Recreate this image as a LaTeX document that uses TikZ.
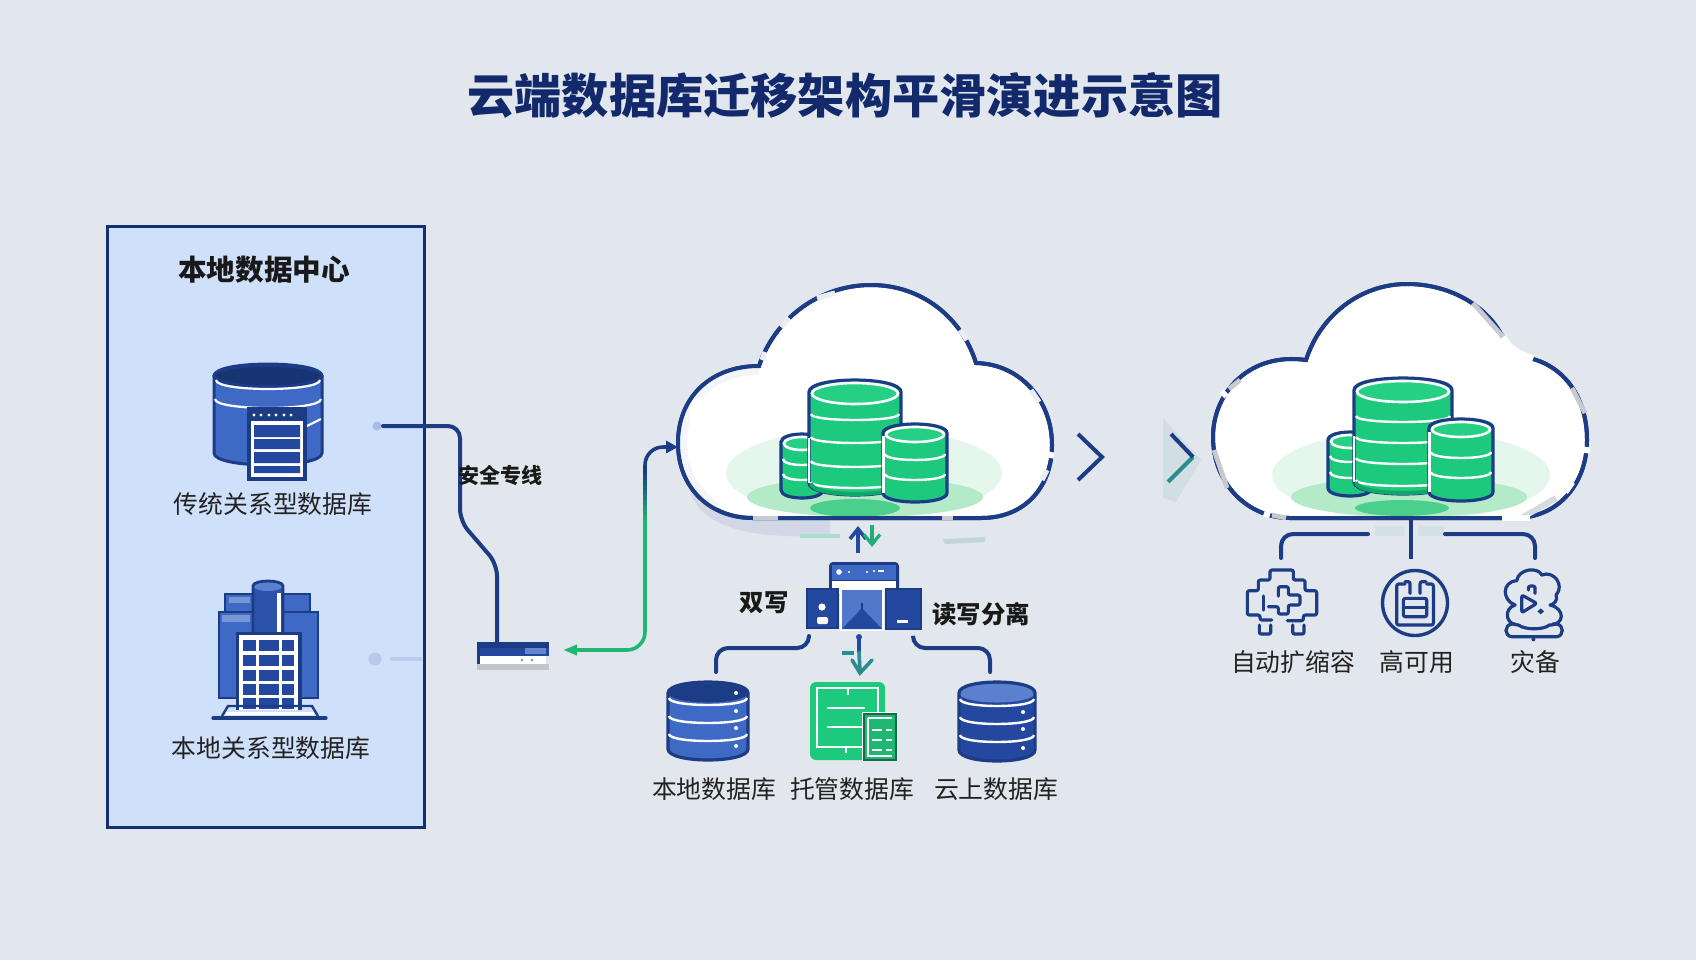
\documentclass[tikz,border=0pt]{standalone}
\usepackage{fontspec}
\setmainfont{Noto Sans CJK SC}
\usetikzlibrary{arrows.meta,calc}
\definecolor{bgc}{HTML}{E2E6ED}
\definecolor{navy}{HTML}{1C3C86}
\definecolor{deep}{HTML}{12296B}
\definecolor{mid}{HTML}{3E69C4}
\definecolor{dkb}{HTML}{24489F}
\definecolor{grn}{HTML}{1DC97C}
\definecolor{grnl}{HTML}{25D085}
\definecolor{grnd}{HTML}{10A868}
\definecolor{glow}{HTML}{1FB873}
\definecolor{halo}{HTML}{E5F6EC}
\definecolor{halob}{HTML}{B4EAC8}
\definecolor{halod}{HTML}{4ACF8C}
\definecolor{teal}{HTML}{2A8C8E}
\definecolor{panel}{HTML}{CFE0FB}
\definecolor{txt}{HTML}{222222}
\tikzset{
  conn/.style={draw=navy,line width=2pt,rounded corners=6pt,line cap=round},
  lab/.style={font=\fontsize{12.4}{14}\selectfont,text=txt,inner sep=0pt},
  blab/.style={font=\fontsize{12}{14}\selectfont\bfseries,text=black!90,inner sep=0pt},
  icon/.style={draw=navy,line width=1.6pt,line join=round,line cap=round,rounded corners=1pt},
  cloudst/.style={draw=navy,line width=2pt,fill=white},
  gapa/.style={draw=bgc!70!white,line width=2.6pt},
  gapb/.style={draw=white,line width=3.4pt},
  gapc/.style={draw=black!12!bgc,line width=2.4pt},
}
% cylinder body path: cx rx ytop ybot ry
\newcommand{\cylpath}[5]{({#1-#2},#3) -- ({#1-#2},#4) .. controls ({#1-#2},{#4+1.33*#5}) and ({#1+#2},{#4+1.33*#5}) .. ({#1+#2},#4) -- ({#1+#2},#3) .. controls ({#1+#2},{#3-1.33*#5}) and ({#1-#2},{#3-1.33*#5}) .. cycle}
\newcommand{\bandpath}[4]{({#1-#2},{#3-#4}) .. controls ({#1-#2},{#3+0.33*#4}) and ({#1+#2},{#3+0.33*#4}) .. ({#1+#2},{#3-#4})}
% green stack: cx rx ytop ybot ry bandlist
\newcommand{\greendb}[6]{%
  \fill[grn] \cylpath{#1}{#2}{#3}{#4}{#5};
  \draw[navy,line width=1.6pt] \cylpath{#1}{#2}{#3}{#4}{#5};
  \fill[grnl] (#1,{#3+1.5}) ellipse [x radius={#2-4},y radius={#5-2}];
  \draw[white,line width=1.3pt] (#1,{#3+1.5}) ellipse [x radius={#2-3},y radius={#5-1.5}];
  \foreach \b in {#6}{\draw[white,line width=1.2pt] \bandpath{#1}{(#2-2)}{\b}{6};}
}
% cloud path
\newcommand{\cloudA}{(753,518) -- (981,518) .. controls (1026,518) and (1052,486) .. (1052,445) .. controls (1052,400) and (1020,364) .. (976,363) .. controls (962,318) and (922,285) .. (871,285) .. controls (820,285) and (775,318) .. (759,366) .. controls (710,366) and (678,398) .. (678,443) .. controls (678,488) and (710,518) .. (753,518) -- cycle}
\newcommand{\cloudB}{(1290,518) -- (1515,518) .. controls (1558,518) and (1587,484) .. (1587,440) .. controls (1587,398) and (1565,368) .. (1533,359) .. controls (1522,354) and (1510,350) .. (1504,340) .. controls (1490,308) and (1452,284) .. (1407,284) .. controls (1360,284) and (1320,316) .. (1306,360) .. controls (1250,352) and (1213,392) .. (1213,437) .. controls (1213,484) and (1248,518) .. (1290,518) -- cycle}
\begin{document}
\begin{tikzpicture}[x=0.5pt,y=-0.5pt]
\useasboundingbox (0,0) rectangle (1696,960);
\fill[bgc] (0,0) rectangle (1696,960);

%% title
\node[inner sep=0pt,text=deep,font=\fontsize{23.6}{26}\selectfont\bfseries] (title) at (845,95) {云端数据库迁移架构平滑演进示意图};

%% left panel
\node[draw=deep!70!navy,line width=1.8pt,fill=panel,minimum width=158.5pt,minimum height=300.5pt,inner sep=0pt,anchor=north west] (panelbox) at (105.5,224.5) {};
\node[blab,font=\fontsize{14.3}{16}\selectfont\bfseries] (paneltitle) at (264,270) {本地数据中心};

% faint ports
\fill[navy!22!panel] (377,426) circle [radius=4.5];
\fill[navy!14!panel] (375,659) circle [radius=6.5];
\draw[navy!12!panel,line width=1.8pt] (390,659) -- (422,659);

% DB1
\fill[mid] \cylpath{268}{54}{376}{453}{12};
\draw[navy,line width=1.5pt] \cylpath{268}{54}{376}{453}{12};
\fill[navy!85!black] (268,377) ellipse [x radius=54,y radius=10.5];
\draw[navy,line width=1.5pt] (268,376) ellipse [x radius=54,y radius=10.5];
\draw[white,line width=1.1pt] \bandpath{268}{52}{389}{9};
\draw[white,line width=1.1pt] \bandpath{268}{53}{408}{9};
\draw[white,line width=1.1pt] (307,426) -- (321,419);
\fill[navy] (247,407) rectangle (307,481);
\fill[white] (251,421) rectangle (303,477);
\fill[dkb] (254,425) rectangle (300,437) (254,439) rectangle (300,449) (254,452) rectangle (300,463) (254,466) rectangle (300,473);
\foreach \q in {254,261,269,276,284,291}{\fill[white] (\q,415) circle [radius=1.7];}
\node[lab] (dba) at (273,504) {传统关系型数据库};

% building
\fill[mid] (225,594) rectangle (310,640);
\draw[navy,line width=1.4pt] (225,594) rectangle (310,640);
\fill[mid] (219,612) rectangle (318,698);
\draw[navy,line width=1.4pt] (219,612) rectangle (318,698);
\fill[mid!70!white] (222,615) rectangle (250,622);
\fill[mid!70!white] (229,597) rectangle (250,603);
\fill[dkb!70!mid] \cylpath{268}{15}{586}{640}{5};
\fill[mid!85!white] (268,586) ellipse [x radius=15,y radius=5];
\draw[navy,line width=1.4pt] \cylpath{268}{15}{586}{640}{5};
\fill[white] (277,593) rectangle (281,632);
\fill[navy] (236,632) rectangle (302,710);
\fill[white] (239,635) rectangle (298,710);
\foreach \cx/\cw in {243/13,259/20,282/12}{\foreach \cy in {640,655,670,684,698}{\fill[dkb] (\cx,\cy) rectangle ({\cx+\cw},{\cy+11});}}
\draw[navy,line width=1.2pt] (222,716) -- (228,706) -- (312,706) -- (318,716);
\fill[white] (226,712) rectangle (314,715);
\draw[navy,line width=1.6pt,line cap=round] (213,718) -- (326,718);
\node[lab] (dbb) at (271,748) {本地关系型数据库};

%% secure line and device
\coordinate (portA) at (383,426);
\coordinate (lineA) at (460,426);
\coordinate (lineB) at (460,521);
\coordinate (lineC) at (497,564);
\fill[navy] (477,642) rectangle (549,650);
\fill[dkb] (477,648) rectangle (549,656);
\fill[mid!80!white] (525,648) rectangle (546,654);
\fill[black!14!bgc] (477,664) rectangle (549,670);
\fill[white] (480,656) rectangle (546,664);
\fill[navy] (477,648) rectangle (480,664);
\fill[black!40] (522,660) circle [radius=1.5] (532,660) circle [radius=1.5];
\node[inner sep=0pt,minimum width=36pt,minimum height=14pt] (router) at (513,656) {};
\draw[conn] (portA) -- (lineA) -- (lineB) -- (lineC) -- (router.north -| lineC);
\node[blab,font=\fontsize{10.5}{12}\selectfont\bfseries] (seclab) at (500,476) {安全专线};

%% clouds
\fill[navy!12!bgc,opacity=.7] (690,490) .. controls (700,530) and (760,540) .. (830,535) -- (830,510) -- (700,480) -- cycle;
\draw[cloudst] \cloudA;
\begin{scope}
  \clip \cloudA;
  \draw[bgc!40!white,line width=9pt] (759,366) .. controls (710,366) and (678,398) .. (678,443) .. controls (678,470) and (690,495) .. (715,510);
  \fill[white] (690,400) -- (760,385) -- (800,520) -- (730,510) .. controls (700,495) and (690,470) .. (690,445) -- cycle;
  \fill[halo] (864,473) ellipse [x radius=138,y radius=45];
  \fill[halob] (865,497) ellipse [x radius=118,y radius=20];
  \fill[halod] (855,508) ellipse [x radius=45,y radius=9];
\end{scope}
\draw[navy,line width=2pt] \cloudA;
\draw[gapa] (817,298) -- (835,293);
\draw[gapa] (781,327) -- (789,318);
\draw[gapa] (762,360) -- (765,352);
\draw[gapa] (960,330) -- (967,340);
\draw[gapa] (1031,390) -- (1039,402);
\draw[gapb] (1051,452) -- (1050,458);
\draw[gapa] (1047,470) -- (1042,480);
\draw[gapc] (753,518) -- (778,518);
\draw[gapc] (942,518) -- (953,518);
\greendb{802}{21}{442}{490}{8}{465,480}
\greendb{855}{46}{392}{483}{12}{420,443,467,488}
\draw[grnd,line width=2pt] \bandpath{855}{44}{494}{11};
\draw[white,line width=1.4pt] (809,438) -- (809,483);
\greendb{915}{32}{433}{493}{9}{460,480}
\draw[white,line width=1.5pt] (883,436) -- (883,493);
\node[inner sep=0pt,minimum size=2pt] (cloudAnode) at (865,400) {};

\draw[cloudst] \cloudB;
\begin{scope}
  \clip \cloudB;
  \fill[halo] (1411,475) ellipse [x radius=139,y radius=45];
  \fill[halob] (1409,497) ellipse [x radius=118,y radius=20];
  \fill[halod] (1402,508) ellipse [x radius=47,y radius=8];
\end{scope}
\draw[navy,line width=2pt] \cloudB;
\draw[gapc] (1473,303) -- (1504,338);
\draw[gapb] (1503,337) .. controls (1510,350) and (1520,354) .. (1533,359);
\draw[gapc] (1572,388) -- (1585,413);
\draw[gapb] (1587,447) -- (1586,453);
\draw[gapb] (1572,482) -- (1565,492);
\draw[black!5!bgc,line width=3pt] (1556,498) -- (1523,517);
\draw[gapb] (1502,518) -- (1530,518);
\draw[gapc] (1229,389) -- (1240,380);
\draw[gapb] (1222,396) -- (1226,392);
\draw[gapc] (1214,450) -- (1227,488);
\draw[gapb] (1264,513) -- (1270,515);
\draw[gapc] (1272,515) -- (1286,518);
\greendb{1350}{22}{440}{488}{8}{462,478}
\greendb{1403}{49}{390}{482}{12}{422,443,464,486}
\draw[grnd,line width=2pt] \bandpath{1403}{47}{493}{11};
\draw[white,line width=1.4pt] (1354,436) -- (1354,482);
\greendb{1461}{32}{428}{492}{9}{458,478}
\draw[white,line width=1.5pt] (1429,432) -- (1429,492);
\node[inner sep=0pt,minimum size=2pt] (cloudBnode) at (1411,518) {};

%% link to first cloud
\coordinate (routerE) at (563,650);
\coordinate (bendA) at (645,650);
\coordinate (bendM) at (645,522);
\coordinate (bendN) at (645,470);
\coordinate (bendB) at (645,447);
\coordinate (cloudIn) at (678,447);
\draw[glow,line width=1.8pt,rounded corners=9pt,{Triangle[length=7pt,width=5pt,fill=glow]}-] (routerE) -- (bendA) -- (bendM);
\foreach \p in {0,5,...,50}{\pgfmathtruncatemacro\pc{2*\p}\draw[draw={glow!\pc!navy},line width=1.8pt] (645,{470+\p}) -- (645,{476+\p});}
\draw[navy,line width=1.8pt,rounded corners=9pt,-{Triangle[length=6pt,width=6pt,fill=navy]}] (bendN) -- (bendB) -- (cloudIn);

%% chevrons
\fill[teal!9!bgc] (1163,418) -- (1201,460) -- (1176,502) -- (1163,498) -- cycle;
\coordinate (ch1a) at (1078,434);\coordinate (ch1b) at (1102,457);\coordinate (ch1c) at (1078,480);
\draw[navy,line width=2pt] (ch1a) -- (ch1b) -- (ch1c);
\coordinate (ch2a) at (1171,434);\coordinate (ch2b) at (1193,457);\coordinate (ch2c) at (1168,482);
\draw[teal,line width=2pt] (ch2b) -- (ch2c);
\draw[navy,line width=2pt] (ch2a) -- (ch2b);

%% gateway
\fill[grn!28!bgc] (800,534) rectangle (840,538);
\fill[teal!18!bgc] (943,539) -- (985,537) -- (985,542) -- (945,544) -- cycle;
\draw[dkb,line width=1.8pt,-{Straight Barb[length=5pt,width=8pt]}] (858,553) -- (858,526);
\draw[glow!70!teal,line width=1.6pt,-{Straight Barb[length=5pt,width=8pt]}] (872,525) -- (872,547);

\fill[navy,rounded corners=2pt] (829,562) rectangle (899,594);
\fill[mid] (832,565) rectangle (896,580);
\fill[white] (832,581) rectangle (896,594);
\fill[white] (839,572) circle [radius=2.8] (849,572) circle [radius=1.2] (867,572) circle [radius=1.2] (874,571) circle [radius=1.2];
\fill[white] (878,570) rectangle (884,572);
\fill[dkb,draw=navy,line width=1pt] (807,589) rectangle (838,628);
\fill[white] (822,607) circle [radius=3.6];
\fill[white,rounded corners=1pt] (817,617) rectangle (828,624);
\fill[white] (840,589) rectangle (884,631);
\fill[mid!90!white] (842,590) rectangle (882,629);
\fill[dkb] (842,629) -- (862,608) -- (882,629) -- cycle;
\fill[navy] (861,603) rectangle (863,610);
\fill[dkb,draw=navy,line width=1pt] (886,589) rectangle (921,629);
\fill[white] (897,620) rectangle (908,622.5);
\node[inner sep=0pt,minimum width=57pt,minimum height=33pt] (gate) at (864,596) {};
\node[blab,font=\fontsize{12.2}{14}\selectfont\bfseries] (dual) at (764,603) {双写};
\node[blab,font=\fontsize{12.2}{14}\selectfont\bfseries] (rwsplit) at (981,614) {读写分离};

% DB local
\fill[mid] \cylpath{708}{40}{693}{749}{11};
\fill[navy] (708,693) ellipse [x radius=40,y radius=9.5];
\draw[navy,line width=1.6pt] \cylpath{708}{40}{693}{749}{11};
\foreach \b in {705,723,741}{\draw[white,line width=1.2pt] \bandpath{708}{39}{\b}{7};}
\foreach \b in {693,711,728,746}{\fill[white] (736,\b) circle [radius=2];}
\node[inner sep=0pt,minimum width=41pt,minimum height=39pt] (localdb) at (708,721) {};
\node[lab] (l1) at (714,789) {本地数据库};

% managed icon
\fill[grn,rounded corners=3pt] (810,682) rectangle (885,760);
\draw[white,line width=1.2pt] (817,688) rectangle (878,747);
\draw[white,line width=1.2pt] (848,688) -- (848,695) (846,747) -- (846,753);
\draw[white,line width=1.4pt,line cap=round] (828,708) -- (864,708) (828,727) -- (864,727);
\fill[white] (862,712) rectangle (897,761);
\fill[glow,draw=glow!60!black,line width=1.2pt] (864,714) rectangle (896,760);
\draw[white,line width=1.1pt] (868,718) -- (892,718) (868,718) -- (868,756) -- (892,756);
\draw[white,line width=1.1pt,dash pattern=on 5pt off 2pt] (872,730) -- (892,730) (872,740) -- (892,740) (872,750) -- (892,750);
\node[inner sep=0pt,minimum width=37pt,minimum height=39pt] (mandb) at (850,721) {};
\node[lab] (l2) at (852,789) {托管数据库};

% DB cloud
\fill[dkb] \cylpath{997}{38}{693}{750}{11};
\fill[mid!85!white] (997,693) ellipse [x radius=38,y radius=9.5];
\draw[navy,line width=1.6pt] \cylpath{997}{38}{693}{750}{11};
\foreach \b in {706,724,742}{\draw[white,line width=1.2pt] \bandpath{997}{37}{\b}{7};}
\foreach \b in {712,729,748}{\fill[white] (1023,\b) circle [radius=2];}
\node[inner sep=0pt,minimum width=39pt,minimum height=39pt] (clouddb) at (997,721) {};
\node[lab] (l3) at (996,789) {云上数据库};

% gateway connectors
\coordinate (gl) at (809,636);\coordinate (glb) at (809,648);\coordinate (gld) at (716,648);\coordinate (gle) at (716,672);
\draw[conn] (gl) -- (glb) -- (gld) -- (gle);
\coordinate (gr) at (913,637);\coordinate (grb) at (913,648);\coordinate (grd) at (990,648);\coordinate (gre) at (990,672);
\draw[conn] (gr) -- (grb) -- (grd) -- (gre);
\coordinate (gm) at (859,637);\coordinate (gmm) at (859,652);\coordinate (gme) at (860,673);
\fill[dkb] (gm) circle [radius=3];
\draw[dkb,line width=1.8pt] (gm) -- (gmm);
\draw[teal,line width=1.8pt,line cap=round] (gmm) -- (gme) (852,660) -- (gme) -- (872,660);
\draw[teal,line width=1.6pt] (842,653) -- (854,653);

%% bottom bar of second cloud
\coordinate (barL) at (1300,518);\coordinate (barR) at (1502,518);
\coordinate (stemB) at (1411,559);
\draw[navy,line width=2.4pt] (barL) -- (barR);
\fill[teal!7!bgc] (1375,526) rectangle (1404,536) (1418,526) rectangle (1444,536);
\draw[navy,line width=2.2pt] (cloudBnode.center) -- (stemB);
\coordinate (brL) at (1368,534);\coordinate (brLc) at (1281,534);\coordinate (brLe) at (1281,558);
\coordinate (brR) at (1445,534);\coordinate (brRc) at (1535,534);\coordinate (brRe) at (1535,558);
\draw[conn] (brL) -- (brLc) -- (brLe);
\draw[conn] (brR) -- (brRc) -- (brRe);

%% puzzle icon
\begin{scope}[shift={(1200,510)},x=0.1667pt,y=-0.1667pt]
\draw[icon] (215,330) -- (180,330) -- (180,315) -- (142,315) -- (142,242) -- (175,242) -- (175,210) -- (210,210) -- (210,180) -- (280,180) -- (280,210) -- (315,210) -- (315,242) -- (350,242) -- (350,315) -- (310,315) -- (310,332) -- (262,332);
\draw[icon] (178,345) -- (178,372) -- (212,372) -- (212,345) (278,345) -- (278,372) -- (312,372) -- (312,345);
\draw[icon] (235,258) -- (235,230) -- (265,230) -- (265,255) -- (300,255) -- (300,285) -- (265,285) -- (265,312) -- (235,312) -- (235,290) -- (205,290);
\draw[icon] (190,258) -- (190,300);
\end{scope}
\node[inner sep=0pt,minimum width=35pt,minimum height=33pt] (iconA) at (1282,602) {};
\node[lab] (t1) at (1293,662) {自动扩缩容};

%% HA icon
\draw[navy,line width=1.7pt] (1415,603) circle [radius=32.5];
\begin{scope}[shift={(1200,510)},x=0.1667pt,y=-0.1667pt]
\draw[icon] (615,222) -- (590,222) -- (590,345) -- (700,345) -- (700,222) -- (680,222);
\draw[icon] (615,215) -- (630,215) -- (630,250) (660,250) -- (660,215) -- (678,215);
\draw[icon] (610,265) rectangle (680,320);
\draw[icon] (610,292) -- (680,292);
\end{scope}
\node[inner sep=0pt,minimum width=33pt,minimum height=33pt] (iconB) at (1415,603) {};
\node[lab] (t2) at (1417,662) {高可用};

%% backup icon
\begin{scope}[shift={(1200,510)},x=0.1667pt,y=-0.1667pt]
\draw[icon,rounded corners=0pt] (945,285) .. controls (905,270) and (905,215) .. (950,212) .. controls (955,175) and (1015,170) .. (1025,195) .. controls (1060,180) and (1095,225) .. (1068,255) .. controls (1075,270) and (1060,285) .. (1050,285);
\draw[icon,rounded corners=0pt] (945,285) .. controls (910,295) and (915,345) .. (955,345) .. controls (975,360) and (1030,360) .. (1048,345) .. controls (1095,345) and (1095,295) .. (1050,285);
\draw[icon] (965,255) -- (965,308) -- (1010,280) -- cycle;
\draw[icon] (985,240) -- (985,228) -- (1005,228) -- (1005,250);
\fill[navy] (1022,295) -- (1032,304) -- (1022,313) -- (1012,304) -- cycle;
\draw[icon,rounded corners=0pt] (945,342) -- (935,342) .. controls (912,345) and (912,378) .. (935,380) -- (1070,380) .. controls (1092,378) and (1092,345) .. (1070,342) -- (1058,342);
\fill[navy] (1000,388) circle [radius=6];
\end{scope}
\node[inner sep=0pt,minimum width=28pt,minimum height=34pt] (iconC) at (1534,603) {};
\node[lab] (t3) at (1535,662) {灾备};
\end{tikzpicture}
\end{document}
